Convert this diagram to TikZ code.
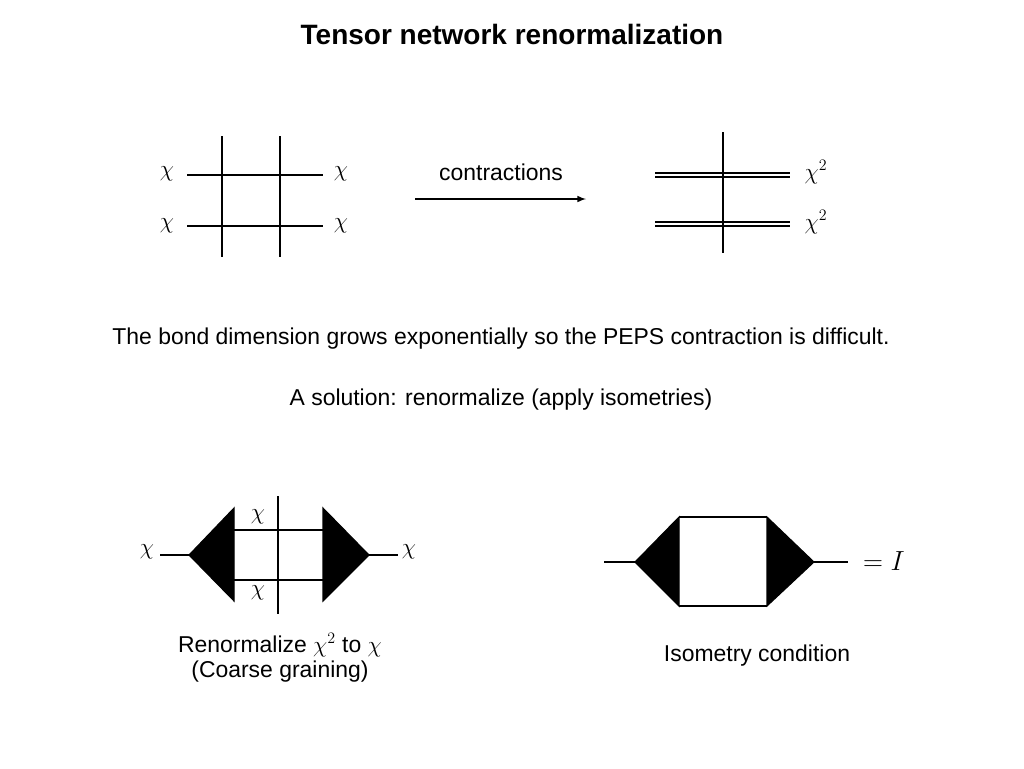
\documentclass[tikz,border=0pt]{standalone}
\usepackage{fontspec}
\setmainfont{Liberation Sans}
\begin{document}
\begin{tikzpicture}[x=0.75pt,y=-0.75pt,line width=1.3pt,
  txt/.style={font=\fontsize{17.2}{20}\selectfont},
  chi/.style={font=\fontsize{17}{20}\selectfont},
  tri/.style={fill=black,draw=black,line width=0.8pt}]
\useasboundingbox (0,0) rectangle (1024,768);
\node[font=\bfseries\fontsize{21}{24}\selectfont] (title) at (512,34) {Tensor network renormalization};
% top-left grid
\coordinate (v1t) at (222,136); \coordinate (v1b) at (222,257);
\coordinate (v2t) at (280,136); \coordinate (v2b) at (280,257);
\draw (v1t)--(v1b); \draw (v2t)--(v2b);
\node[chi] (c1) at (167,174) {$\chi$}; \node[chi] (c2) at (341,174) {$\chi$};
\node[chi] (c3) at (167,226) {$\chi$}; \node[chi] (c4) at (341,226) {$\chi$};
\coordinate (h1l) at (187,175); \coordinate (h1r) at (323,175);
\coordinate (h2l) at (187,226); \coordinate (h2r) at (323,226);
\draw (h1l)--(h1r); \draw (h2l)--(h2r);
% arrow
\coordinate (al) at (415,199); \coordinate (ar) at (586,199);
\draw[-latex,line width=1.2pt] (al)--(ar);
\node[txt] (con) at (501,172) {contractions};
% top-right
\coordinate (d1l) at (655,175); \coordinate (d1r) at (790,175);
\coordinate (d2l) at (655,224); \coordinate (d2r) at (790,224);
\draw[double,double distance=2.2pt,line width=0.9pt] (d1l)--(d1r);
\draw[double,double distance=2.2pt,line width=0.9pt] (d2l)--(d2r);
\coordinate (vt) at (723,132); \coordinate (vb) at (723,253);
\draw[line width=1pt] (vt)--(vb);
\node[chi] (q1) at (816,172) {$\chi^2$}; \node[chi] (q2) at (816,222) {$\chi^2$};
\node[txt] (t1) at (501,339) {The bond dimension grows exponentially so the PEPS contraction is difficult.};
\node[txt] (t2) at (501,400) {A solution: renormalize (apply isometries)};
% bottom-left
\draw (278,496)--(278,614);
\draw (234,530)--(323,530); \draw (234,580)--(323,580);
\draw[tri] (189,555)--(234,508)--(234,601)--cycle;
\draw[tri] (369,555)--(323,508)--(323,601)--cycle;
\coordinate (l1) at (160,555); \coordinate (l2) at (189,555);
\coordinate (r1) at (369,555); \coordinate (r2) at (398,555);
\draw (l1)--(l2); \draw (r1)--(r2);
\node[chi] (b1) at (147,552) {$\chi$}; \node[chi] (b2) at (409,552) {$\chi$};
\node[chi] (b3) at (258,517) {$\chi$}; \node[chi] (b4) at (258,593) {$\chi$};
\node[txt] (rn) at (280,645) {Renormalize $\chi^2$ to $\chi$};
\node[txt] (cg) at (280,672) {(Coarse graining)};
% bottom-right
\draw (679,517)--(767,517); \draw (679,606)--(767,606);
\draw[tri] (635,562)--(679,517)--(679,606)--cycle;
\draw[tri] (814,562)--(767,517)--(767,606)--cycle;
\draw (604,562)--(635,562); \draw (814,562)--(848,562);
\node[font=\fontsize{21}{24}\selectfont] (eq) at (884,561) {$=I$};
\node[txt] (iso) at (757,656) {Isometry condition};
\end{tikzpicture}
\end{document}
